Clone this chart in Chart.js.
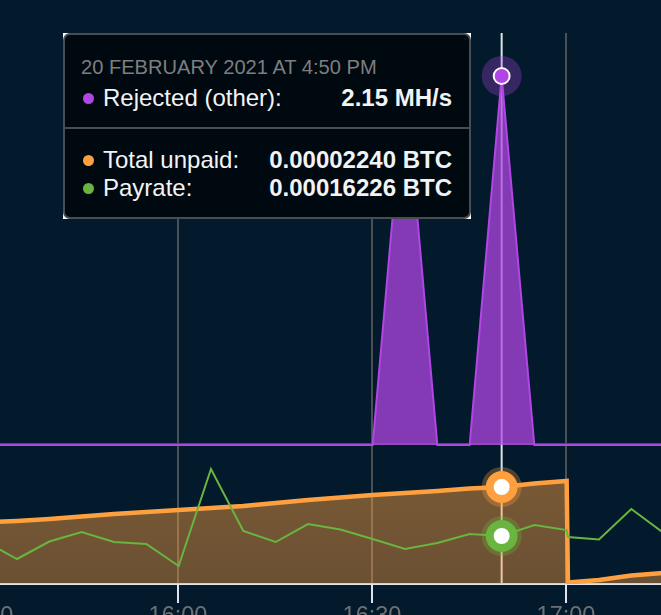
<!DOCTYPE html>
<html>
<head>
<meta charset="utf-8">
<title>Payrate chart</title>
<script src="https://cdn.jsdelivr.net/npm/chart.js@4/dist/chart.umd.min.js"></script>
<style>
  html, body { margin: 0; padding: 0; width: 661px; height: 615px; overflow: hidden; background: #021a2b; }
  #wrap { position: relative; width: 661px; height: 615px; overflow: hidden; }
  /* canvas is wider and taller than the window so that tick labels get cut at the edges */
  #chart { position: absolute; left: -60px; top: 0; }
  /* white shows only outside the rounded corners */
  #tip { position: absolute; left: 63px; top: 33px; width: 408px; height: 186px; background: #fff;
         font-family: "Liberation Sans", Arial, sans-serif; font-size: 24px; color: #f2f3f5; }
  #tip .box { position: absolute; inset: 0; box-sizing: border-box; border: 2px solid #484d52; border-radius: 7px; background: #00090f; }
  #tip .sep { position: absolute; left: 0; right: 0; top: 94px; height: 2px; background: #484d52; }
  #tip .row { position: absolute; left: 40px; right: 19px; height: 24px; line-height: 24px; }
  #tip .title { position: absolute; left: 18px; top: 22px; line-height: 24px; font-size: 20.1px; color: #7c7f80; }
  #tip .dot { position: absolute; left: -20px; top: 7px; width: 11px; height: 11px; border-radius: 50%; }
  #tip .val { position: absolute; right: 0; top: 0; font-weight: bold; }
</style>
</head>
<body>
<div id="wrap">
  <canvas id="chart" width="723" height="660"></canvas>
  <div id="tip"><div class="box"></div></div>
</div>
<script>
// minutes since midnight, samples every 5 minutes a few seconds past the mark (payout drop right after 17:00)
const times = [930.1, 935.1, 940.1, 945.1, 950.1, 955.1, 960.1, 965.1, 970.1, 975.1, 980.1, 985.1, 990.1, 995.1, 1000.1, 1005.1, 1010.05, 1015.1, 1020.1, 1020.3, 1025.1, 1030.1, 1035.1];
const xTickValues = [930, 960, 990, 1020];

const rejected = [0, 0, 0, 0, 0, 0, 0, 0, 0, 0, 0, 0, 0, 2.15, 0, 0, 2.15, 0, 0, 0, 0, 0, 0];
const totalUnpaid = [0.00001425, 0.00001455, 0.00001501, 0.00001559, 0.00001616, 0.00001663, 0.00001709, 0.00001755,
  0.00001801, 0.00001870, 0.00001940, 0.00001997, 0.00002055, 0.00002101, 0.00002147, 0.00002205, 0.00002240,
  0.00002321, 0.00002378, 0.00000035, 0.00000092, 0.00000196, 0.00000254];
const payrate = [0.00014534, 0.00008450, 0.00014365, 0.00017576, 0.00014196, 0.00013520, 0.00006084, 0.00038870,
  0.00017914, 0.00014196, 0.00020280, 0.00018421, 0.00015210, 0.00011830, 0.00013858, 0.00016900, 0.00016226,
  0.00019942, 0.00018252, 0.00015886, 0.00015041, 0.00025350, 0.00017238];

const hoverIndex = 16;
const hoverTitle = "20 February 2021 at 4:50 PM";

const purple = "#b146e4";
const orange = "#ffa040";
const green = "#69b540";

function points(values) {
  return values.map((v, i) => ({ x: times[i], y: v }));
}

function hoverOnly(value) {
  return ctx => (ctx.dataIndex === hoverIndex ? value : 0);
}

function formatTime(m) {
  const h = Math.floor(m / 60);
  const min = m % 60;
  return h + ":" + String(min).padStart(2, "0");
}

// Crosshair goes under the fills, the halos go over them
const hoverPlugin = {
  id: "hover",
  beforeDatasetsDraw(chart) {
    const { ctx, chartArea, scales } = chart;
    const x = scales.x.getPixelForValue(times[hoverIndex]);
    ctx.save();
    ctx.strokeStyle = "#dfe3e8";
    ctx.lineWidth = 2;
    ctx.beginPath();
    ctx.moveTo(x, chartArea.top);
    ctx.lineTo(x, chartArea.bottom);
    ctx.stroke();
    ctx.restore();
  },
  afterDatasetsDraw(chart) {
    const ctx = chart.ctx;
    chart.data.datasets.forEach((ds, i) => {
      const el = chart.getDatasetMeta(i).data[hoverIndex];
      const inner = ds.pointRadius({ dataIndex: hoverIndex }) + ds.pointBorderWidth / 2;
      ctx.save();
      ctx.fillStyle = ds.borderColor;
      ctx.globalAlpha = 0.3;
      ctx.beginPath();
      ctx.arc(el.x, el.y, 20, 0, Math.PI * 2);
      ctx.arc(el.x, el.y, inner, 0, Math.PI * 2, true);
      ctx.fill();
      ctx.restore();
    });
  }
};

new Chart(document.getElementById("chart"), {
  type: "line",
  plugins: [hoverPlugin],
  data: {
    datasets: [
      {
        label: "Rejected (other)",
        data: points(rejected),
        yAxisID: "yRejected",
        borderColor: purple,
        borderWidth: 2,
        backgroundColor: "rgba(177, 70, 228, 0.74)",
        fill: "origin",
        pointRadius: hoverOnly(8),
        pointBorderWidth: 2,
        pointBorderColor: "#ffffff",
        pointBackgroundColor: purple
      },
      {
        label: "Payrate",
        data: points(payrate),
        yAxisID: "yPayrate",
        borderColor: green,
        borderWidth: 2,
        fill: false,
        pointRadius: hoverOnly(12),
        pointBorderWidth: 8,
        pointBorderColor: green,
        pointBackgroundColor: "#ffffff"
      },
      {
        label: "Total unpaid",
        data: points(totalUnpaid),
        yAxisID: "yUnpaid",
        borderColor: orange,
        borderWidth: 4.5,
        backgroundColor: ctx => {
          const area = ctx.chart.chartArea;
          if (!area) return "rgba(255, 160, 64, 0.45)";
          const g = ctx.chart.ctx.createLinearGradient(0, 480, 0, area.bottom);
          g.addColorStop(0, "rgba(255, 160, 64, 0.47)");
          g.addColorStop(1, "rgba(255, 160, 64, 0.41)");
          return g;
        },
        fill: "origin",
        pointRadius: hoverOnly(12),
        pointBorderWidth: 8,
        pointBorderColor: orange,
        pointBackgroundColor: "#ffffff"
      }
    ]
  },
  options: {
    responsive: false,
    animation: false,
    events: [],
    layout: { padding: { left: 44, right: 0, top: 33, bottom: 0 } },
    plugins: { legend: { display: false }, tooltip: { enabled: false } },
    elements: { line: { tension: 0, borderJoinStyle: "miter" } },
    scales: {
      x: {
        type: "linear",
        min: 930,
        max: 1035,
        afterFit: s => { s.height = 76; },
        afterBuildTicks: s => { s.ticks = xTickValues.map(value => ({ value })); },
        grid: { color: "#4b5054", lineWidth: 2, tickColor: "#dfe4ec", tickLength: 19 },
        border: { color: "#dfe4ec", width: 2 },
        ticks: {
          autoSkip: false,
          maxRotation: 0,
          padding: -1,
          color: "#6e7173",
          font: { family: "'Liberation Sans', Arial, sans-serif", size: 23.5 },
          callback: v => formatTime(v)
        }
      },
      yRejected: {
        min: -0.8099,
        max: 2.4005,
        afterBuildTicks: s => { s.ticks = [{ value: 0.0058 }]; },
        grid: { color: "#4b5054", lineWidth: 2, drawTicks: false },
        border: { display: false },
        ticks: { display: false }
      },
      yUnpaid: { display: false, min: 0, max: 0.00012724 },
      yPayrate: { display: false, min: 0, max: 0.0018626 }
    }
  }
});

// Tooltip for the hovered sample, filled from the same arrays
const tip = document.getElementById("tip");

function addRow(label, value, color, top) {
  const row = document.createElement("div");
  row.className = "row";
  row.style.top = top + "px";
  const dot = document.createElement("span");
  dot.className = "dot";
  dot.style.background = color;
  const val = document.createElement("span");
  val.className = "val";
  val.textContent = value;
  row.append(dot, label + ":", val);
  tip.appendChild(row);
}

const title = document.createElement("div");
title.className = "title";
title.textContent = hoverTitle.toUpperCase();
tip.appendChild(title);
const sep = document.createElement("div");
sep.className = "sep";
tip.appendChild(sep);
addRow("Rejected (other)", rejected[hoverIndex].toFixed(2) + " MH/s", purple, 53);
addRow("Total unpaid", totalUnpaid[hoverIndex].toFixed(8) + " BTC", orange, 115);
addRow("Payrate", payrate[hoverIndex].toFixed(8) + " BTC", green, 143);
</script>
</body>
</html>
